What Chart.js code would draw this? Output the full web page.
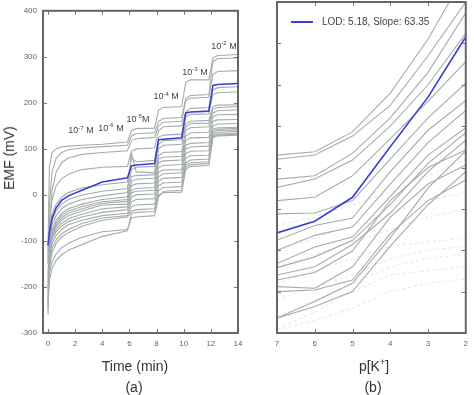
<!DOCTYPE html>
<html><head><meta charset="utf-8">
<script src="https://cdn.jsdelivr.net/npm/chart.js@4/dist/chart.umd.min.js"></script>
<style>
body{margin:0;background:#fff;width:474px;height:395px;overflow:hidden;position:relative;font-family:"Liberation Sans",Arial,sans-serif;}
#wa{position:absolute;left:0;top:0;width:260px;height:395px;}
#wb{position:absolute;left:240px;top:0;width:234px;height:395px;}
.lbl{position:absolute;color:#333;white-space:nowrap;font-size:14px;line-height:16px;transform:translate(-50%,-50%);}
</style></head><body>
<div id="wa"><canvas id="ca"></canvas></div>
<div id="wb"><canvas id="cb"></canvas></div>
<div class="lbl" style="left:9px;top:158px;transform:translate(-50%,-50%) rotate(-90deg);">EMF (mV)</div>
<div class="lbl" style="left:135px;top:366px;">Time (min)</div>
<div class="lbl" style="left:134px;top:387px;">(a)</div>
<div class="lbl" style="left:374px;top:366px;">p[K<sup style="font-size:9px;vertical-align:6px;line-height:0">+</sup>]</div>
<div class="lbl" style="left:373px;top:387px;">(b)</div>
<script>
// ---------- Panel (a): EMF vs time ----------
const timeMin = [0, 0.1, 0.3, 0.6, 1, 1.5, 2.5, 4, 5.85, 6.15, 6.5, 7.85, 8.15, 8.5, 9.85, 10.15, 10.5, 11.85, 12.15, 12.5, 14];
const timeTicks = [0, 2, 4, 6, 8, 10, 12, 14];
const emfTicks = [-300, -200, -100, 0, 100, 200, 300, 400];

const emfBlue = [-110, -82, -50, -28, -12, -2, 10, 28, 37, 63, 65, 68, 120, 121, 124, 178, 180, 182, 238, 240, 242];

const emfG1  = [-110, 60, 92, 100, 104, 106, 108, 110, 115, 140, 144, 145, 185, 190, 192, 245, 250, 250, 298, 303, 305];
const emfG2  = [-130, -20, 50, 80, 92, 98, 102, 105, 108, 128, 133, 135, 160, 166, 168, 210, 216, 218, 290, 296, 298];
const emfG3  = [-150, -60, 10, 50, 70, 80, 88, 92, 96, 118, 122, 125, 150, 158, 160, 205, 210, 212, 262, 268, 270];
const emfG4  = [-140, -60, -10, 20, 35, 45, 55, 60, 62, 95, 100, 102, 140, 148, 150, 180, 188, 190, 228, 233, 235];
const emfG5  = [-120, -70, -40, -20, -5, 5, 15, 22, 28, 80, 72, 75, 125, 130, 132, 170, 175, 176, 218, 222, 224];
const emfG6  = [-150, -90, -55, -35, -20, -10, 0, 8, 14, 55, 60, 62, 110, 118, 120, 155, 160, 162, 192, 195, 196];
const emfG7  = [-170, -100, -65, -45, -30, -20, -10, -2, 5, 90, 50, 48, 100, 108, 110, 148, 155, 156, 186, 190, 192];
const emfG8  = [-200, -110, -75, -55, -40, -30, -20, -10, -4, 40, 42, 44, 85, 92, 94, 140, 146, 148, 178, 183, 185];
const emfG9  = [-220, -120, -80, -60, -45, -35, -25, -15, -10, 30, 34, 36, 78, 82, 84, 128, 135, 136, 170, 174, 175];
const emfG10 = [-180, -115, -85, -65, -50, -40, -30, -18, -14, 20, 24, 26, 70, 74, 76, 118, 124, 125, 160, 163, 164];
const emfG11 = [-250, -130, -90, -70, -55, -45, -35, -22, -20, 10, 14, 16, 60, 64, 66, 108, 112, 114, 150, 154, 155];
const emfG12 = [-260, -140, -95, -75, -62, -52, -42, -30, -26, 5, 8, 10, 50, 54, 55, 100, 104, 106, 143, 146, 147];
const emfG13 = [-190, -125, -95, -80, -68, -58, -48, -38, -32, -5, 0, 2, 40, 46, 48, 90, 95, 96, 140, 143, 144];
const emfG14 = [-230, -140, -105, -88, -75, -65, -55, -45, -40, -15, -10, -8, 30, 36, 38, 80, 85, 86, 136, 140, 141];
const emfG15 = [-210, -150, -115, -98, -85, -75, -62, -50, -45, -25, -22, -20, 20, 26, 28, 70, 76, 78, 132, 136, 138];
const emfG16 = [-240, -160, -125, -105, -92, -82, -68, -55, -48, -35, -32, -30, 10, 16, 18, 65, 70, 72, 128, 132, 134];
const emfG17 = [-200, -170, -145, -128, -115, -105, -92, -80, -75, -50, -48, -45, -5, 8, 10, 60, 66, 68, 126, 130, 132];
const emfG18 = [-230, -185, -160, -142, -130, -120, -108, -90, -78, -40, -38, -36, 0, 5, 6, 55, 62, 64, 125, 128, 130];
const emfGray = [emfG1, emfG2, emfG3, emfG4, emfG5, emfG6, emfG7, emfG8, emfG9, emfG10, emfG11, emfG12, emfG13, emfG14, emfG15, emfG16, emfG17, emfG18];

const concTimes = [2.43, 4.64, 6.63, 8.7, 10.83, 12.97];
const concValues = [139, 145, 164, 213, 267, 322];
const concExps = ['-7', '-6', '-5', '-4', '-3', '-2'];
const concSuffix = [' M', ' M', 'M', ' M', ' M', ' M'];

// ---------- Panel (b): calibration curves ----------
const pK = [7, 6, 5, 4, 3, 2];
const pKTicks = [7, 6, 5, 4, 3, 2];
const calTicks = [-100, -50, 0, 50, 100, 150, 200, 250, 300];
const calBlue = [21, 35, 64, 125, 185, 258];
const calR1  = [115, 119, 143, 190, 255, 335];
const calR2  = [110, 115, 138, 175, 235, 300];
const calR3  = [86, 90, 117, 160, 215, 287];
const calR4  = [76, 86, 109, 150, 200, 262];
const calR5  = [60, 64, 90, 135, 180, 228];
const calR6  = [44, 45, 60, 110, 160, 202];
const calR7  = [12, 30, 39, 95, 145, 181];
const calR8  = [0, 18, 28, 80, 130, 169];
const calR9  = [-16, 4, 16, 65, 115, 148];
const calR10 = [-21, -8, 12, 55, 105, 142];
const calR11 = [-30, -20, 7, 45, 95, 133];
const calR12 = [-36, -27, -1, 60, 100, 121];
const calR13 = [-44, -46, -20, 40, 80, 103];
const calR14 = [-50, -48, -36, 20, 60, 85];
const calR15 = [-82, -68, -50, 5, 55, 95];
const calR16 = [-82, -62, -40, 15, 75, 120];
const calGray = [calR1, calR2, calR3, calR4, calR5, calR6, calR7, calR8, calR9, calR10, calR11, calR12, calR13, calR14, calR15, calR16];
const calD1 = [-96, -85, -70, -50, -40, -35];
const calD2 = [-80, -60, -40, -20, -10, -5];
const calD3 = [-60, -45, -30, -10, 0, 5];
const calD4 = [-95, -75, -50, -30, -25, -20];
const calD5 = [-40, -25, -10, 5, 10, 15];
const calD6 = [-20, -5, 10, 25, 40, 50];
const calD7 = [0, 15, 30, 45, 60, 70];
const calD8 = [30, 40, 55, 70, 90, 110];
const calDash = [calD1, calD2, calD3, calD4, calD5, calD6, calD7, calD8];
const legendText = 'LOD: 5.18, Slope: 63.35';

// ---------- helpers ----------
const GRAY = 'rgb(165,172,172)';
const BLUE = 'rgb(58,62,214)';
const FONT = '"Liberation Sans", Arial, sans-serif';
function pts(xs, ys){ return xs.map((x,i)=>({x:x, y:ys[i]})); }

const frameTicks = {
  id: 'frameTicks',
  afterDraw(chart){
    const {ctx, chartArea:a, scales} = chart;
    const x = scales.x, y = scales.y;
    ctx.save();
    ctx.strokeStyle = '#777'; ctx.lineWidth = 1;
    ctx.beginPath();
    x.ticks.forEach(t=>{
      const px = Math.round(x.getPixelForValue(t.value)) + 0.5;
      if (px < a.left + 2 || px > a.right - 2) return;
      ctx.moveTo(px, a.bottom); ctx.lineTo(px, a.bottom - 4);
      ctx.moveTo(px, a.top); ctx.lineTo(px, a.top + 4);
    });
    y.ticks.forEach(t=>{
      const py = Math.round(y.getPixelForValue(t.value)) + 0.5;
      if (py < a.top + 2 || py > a.bottom - 2) return;
      ctx.moveTo(a.left, py); ctx.lineTo(a.left + 4, py);
      ctx.moveTo(a.right, py); ctx.lineTo(a.right - 4, py);
    });
    ctx.stroke();
    ctx.strokeStyle = '#666'; ctx.lineWidth = 2;
    ctx.strokeRect(a.left, a.top, a.right - a.left, a.bottom - a.top);
    ctx.restore();
  }
};

const concLabels = {
  id: 'concLabels',
  afterDatasetsDraw(chart){
    const {ctx, scales:{x, y}} = chart;
    ctx.save();
    ctx.fillStyle = '#444';
    ctx.textBaseline = 'middle';
    concTimes.forEach((t,i)=>{
      const cx = x.getPixelForValue(t), cy = y.getPixelForValue(concValues[i]);
      ctx.font = '9px ' + FONT; const w1 = ctx.measureText('10').width;
      ctx.font = '6px ' + FONT; const w2 = ctx.measureText(concExps[i]).width;
      ctx.font = '9px ' + FONT; const w3 = ctx.measureText(concSuffix[i]).width;
      let sx = cx - (w1 + w2 + w3) / 2;
      ctx.font = '9px ' + FONT; ctx.fillText('10', sx, cy);
      ctx.font = '6px ' + FONT; ctx.fillText(concExps[i], sx + w1, cy - 3);
      ctx.font = '9px ' + FONT; ctx.fillText(concSuffix[i], sx + w1 + w2, cy);
    });
    ctx.restore();
  }
};

const legendBox = {
  id: 'legendBox',
  afterDatasetsDraw(chart){
    const {ctx, chartArea:a} = chart;
    ctx.save();
    ctx.strokeStyle = BLUE; ctx.lineWidth = 2;
    ctx.beginPath(); ctx.moveTo(a.left + 14, a.top + 20); ctx.lineTo(a.left + 36, a.top + 20); ctx.stroke();
    ctx.fillStyle = '#444'; ctx.font = '10px ' + FONT; ctx.textBaseline = 'middle';
    ctx.fillText(legendText, a.left + 45, a.top + 20);
    ctx.restore();
  }
};

// ---------- Chart (a) ----------
const dsA = [{data: pts(timeMin, emfBlue), borderColor: BLUE, borderWidth: 1.6, order: 0}];
emfGray.forEach(s=>dsA.push({data: pts(timeMin, s), borderColor: GRAY, borderWidth: 1.1, order: 1}));

new Chart(document.getElementById('ca'), {
  type: 'line',
  data: {datasets: dsA},
  options: {
    responsive: true, maintainAspectRatio: false, animation: false,
    layout: {padding: {left: 0, right: 22, top: 2, bottom: 0}},
    elements: {point: {radius: 0}, line: {tension: 0}},
    plugins: {legend: {display: false}, tooltip: {enabled: false}},
    scales: {
      x: {type: 'linear', min: -0.37, max: 14,
        afterBuildTicks: s => { s.ticks = timeTicks.map(v=>({value: v})); },
        afterFit: s => { s.height = 62; },
        grid: {display: false, drawTicks: false}, border: {display: false},
        ticks: {padding: 6, color: '#666', font: {size: 8, family: FONT}}},
      y: {type: 'linear', min: -300, max: 400,
        afterBuildTicks: s => { s.ticks = emfTicks.map(v=>({value: v})); },
        afterFit: s => { s.width = 43; },
        grid: {display: false, drawTicks: false}, border: {display: false},
        ticks: {padding: 6, color: '#666', font: {size: 8, family: FONT}}}
    }
  },
  plugins: [frameTicks, concLabels]
});

// ---------- Chart (b) ----------
const dsB = [{data: pts(pK, calBlue), borderColor: BLUE, borderWidth: 1.6, order: 0}];
calGray.forEach(s=>dsB.push({data: pts(pK, s), borderColor: GRAY, borderWidth: 1.1, order: 1}));
calDash.forEach(s=>dsB.push({data: pts(pK, s), borderColor: 'rgb(228,230,230)', borderWidth: 1, borderDash: [3, 3], order: 2}));

new Chart(document.getElementById('cb'), {
  type: 'line',
  data: {datasets: dsB},
  options: {
    responsive: true, maintainAspectRatio: false, animation: false,
    layout: {padding: {left: 0, right: 2, top: 2, bottom: 0}},
    elements: {point: {radius: 0}, line: {tension: 0}},
    plugins: {legend: {display: false}, tooltip: {enabled: false}},
    scales: {
      x: {type: 'linear', min: 2, max: 7, reverse: true,
        afterBuildTicks: s => { s.ticks = pKTicks.map(v=>({value: v})); },
        afterFit: s => { s.height = 62; },
        grid: {display: false, drawTicks: false}, border: {display: false},
        ticks: {padding: 6, color: '#666', font: {size: 8, family: FONT}}},
      y: {type: 'linear', min: -100, max: 300,
        afterBuildTicks: s => { s.ticks = calTicks.map(v=>({value: v})); },
        afterFit: s => { s.width = 37; },
        grid: {display: false, drawTicks: false}, border: {display: false},
        ticks: {display: false}}
    }
  },
  plugins: [frameTicks, legendBox]
});
</script>
</body></html>
